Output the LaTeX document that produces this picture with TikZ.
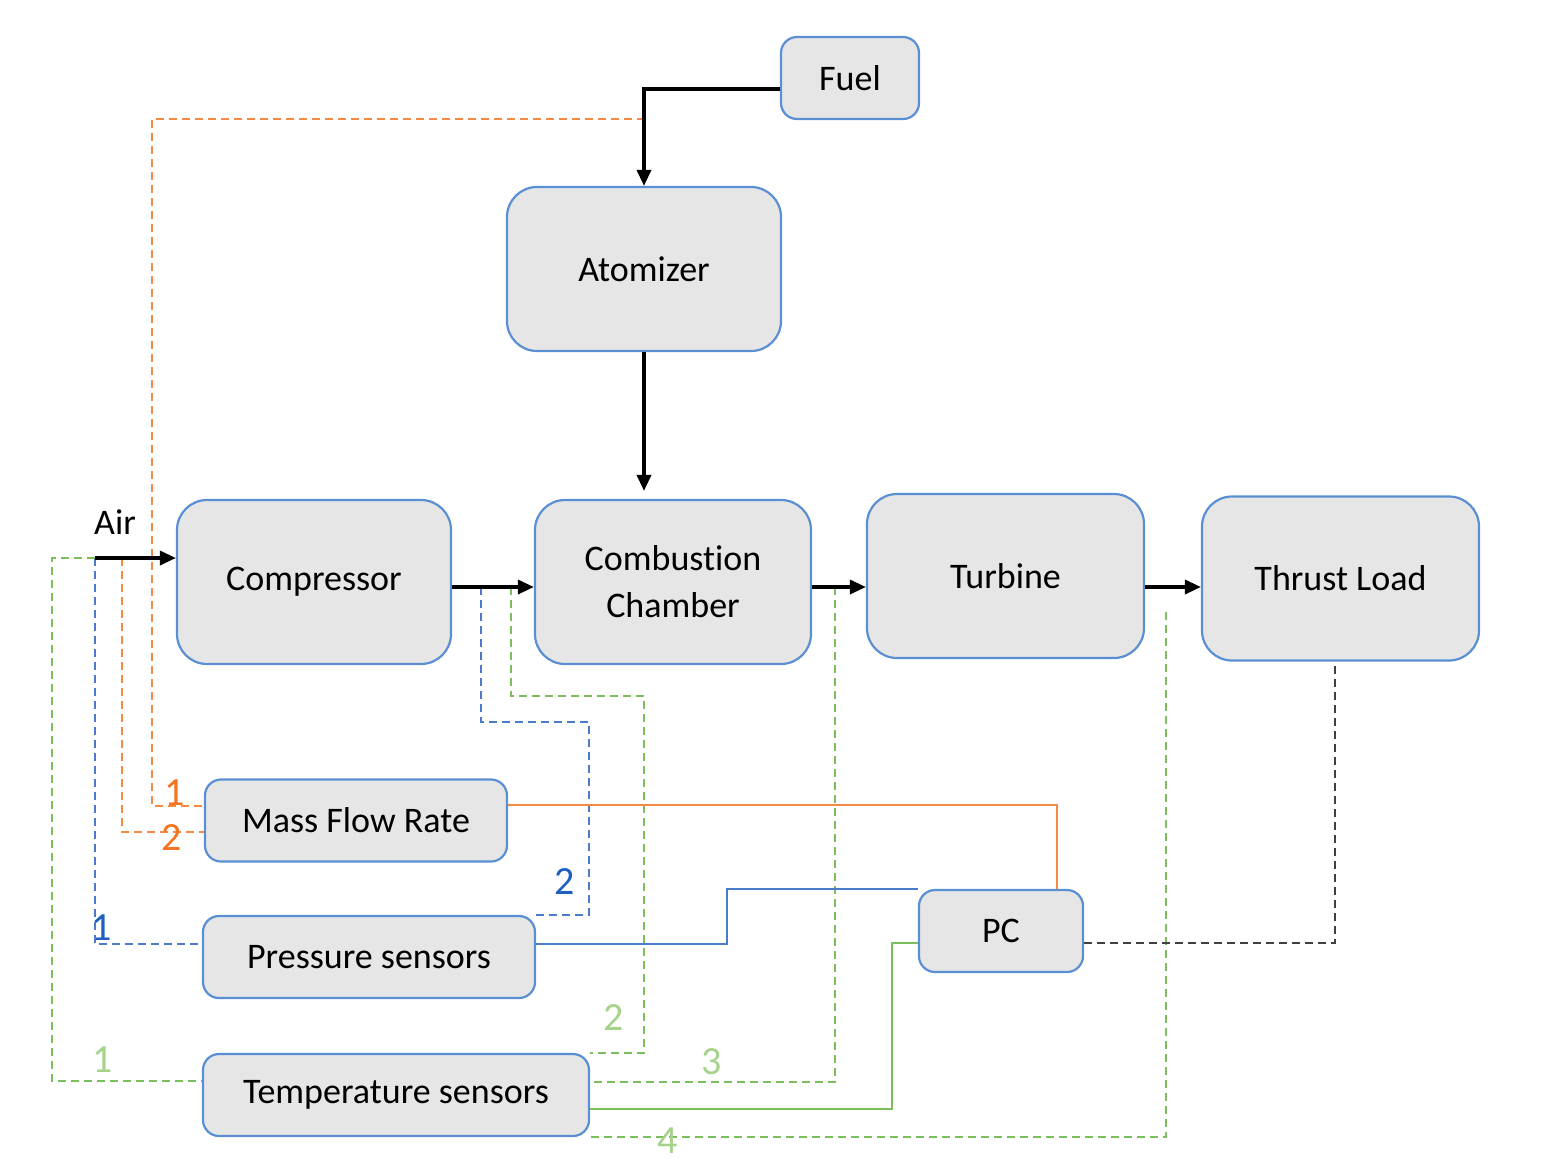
\documentclass[tikz,border=0pt]{standalone}
\usepackage{fontspec}
\setmainfont[Ligatures=NoCommon]{Carlito}
\usetikzlibrary{arrows.meta,calc}
\definecolor{boxfill}{HTML}{E7E6E6}
\definecolor{boxline}{HTML}{5B8FD3}
\definecolor{oran}{HTML}{F58A45}
\definecolor{oranlbl}{HTML}{F47420}
\definecolor{bldash}{HTML}{4A7CCB}
\definecolor{bllbl}{HTML}{1F5FBF}
\definecolor{grn}{HTML}{7BBE5C}
\definecolor{grnlbl}{HTML}{A6D38A}
\definecolor{dgray}{HTML}{404040}
\begin{document}
\begin{tikzpicture}[x=0.5pt,y=-0.5pt,
  box/.style={draw=boxline, fill=boxfill, line width=1.1pt, inner sep=0pt, align=center,
    font=\fontsize{18}{23.5}\selectfont},
  bigbox/.style={box, rounded corners=15pt, minimum width=137pt, minimum height=82pt},
  smallbox/.style={box, rounded corners=8pt, minimum height=41pt},
  flow/.style={line width=1.7pt, -{Triangle[length=8pt,width=7pt]}},
  odash/.style={draw=oran, line width=1pt, dash pattern=on 4pt off 2.5pt},
  osol/.style={draw=oran, line width=1pt},
  bdash/.style={draw=bldash, line width=1pt, dash pattern=on 4pt off 2.5pt},
  bsol/.style={draw=bldash, line width=1pt},
  gdash/.style={draw=grn, line width=1pt, dash pattern=on 4pt off 2.5pt},
  gsol/.style={draw=grn, line width=1pt},
  kdash/.style={draw=dgray, line width=1.2pt, dash pattern=on 4pt off 2.5pt},
  num/.style={font=\fontsize{20}{22}\selectfont, inner sep=0pt}
]
\useasboundingbox (0,0) rectangle (1552,1158);

% nodes
\node[smallbox, minimum width=69pt] (fuel) at (850,78) {Fuel};
\node[bigbox] (atom) at (644,269) {Atomizer};
\node[bigbox] (comp) at (314,582) {Compressor};
\node[bigbox, minimum width=138pt] (comb) at (673,582) {Combustion\\Chamber};
\node[bigbox, minimum width=138.5pt] (turb) at (1005.5,576) {Turbine};
\node[bigbox, minimum width=138.5pt] (thrust) at (1340.5,578.5) {Thrust Load};
\node[smallbox, minimum width=151pt] (mfr) at (356,820.5) {Mass Flow Rate};
\node[smallbox, minimum width=166pt] (press) at (369,957) {Pressure sensors};
\node[smallbox, minimum width=193pt] (temp) at (396,1095) {Temperature sensors};
\node[smallbox, minimum width=82pt] (pc) at (1001,931) {PC};
\node[font=\fontsize{18}{21}\selectfont, inner sep=0pt] (airlbl) at (115,522) {Air};

% free ends / taps
\coordinate (airin) at (95,558);
\coordinate (tapF) at (645,119);
\coordinate (tapO2) at (122,558);
\coordinate (tapB2) at (481,587);
\coordinate (tapG2) at (511,587);
\coordinate (tapG3) at (835,587);
\coordinate (tapG4) at (1166,612);

% orange dashed
\draw[odash] (tapF) -- (152,119) |- ($(mfr.west)+(0,-14.5)$);
\draw[odash] (tapO2) |- ($(mfr.west)+(0,11.5)$);
% blue dashed
\draw[bdash] (airin) |- ($(press.west)+(0,-13)$);
\draw[bdash] (tapB2) -- (481,722) -- (589,722) |- (press.north east);
% green dashed
\draw[gdash] (airin) -- (52,558) |- ($(temp.west)+(0,-14)$);
\draw[gdash] (tapG2) -- (511,696) -- (644,696) |- (temp.north east);
\draw[gdash] (tapG3) |- ($(temp.east)+(0,-13)$);
\draw[gdash] (tapG4) |- (temp.south east);
% solid signal lines
\draw[osol] ($(mfr.east)+(0,-15.5)$) -| ($(pc.north)+(56,0)$);
\draw[bsol] ($(press.east)+(0,-13)$) -- (727,944) |- (pc.north west);
\draw[gsol] ($(temp.east)+(0,14)$) -- (892,1109) |- ($(pc.west)+(0,12)$);
\draw[kdash] ($(pc.east)+(0,12)$) -| ($(thrust.south)+(-5.5,0)$);

% main flow
\draw[flow] ($(fuel.west)+(0,11)$) -| (atom.north);
\draw[flow, shorten >=4pt] (atom.south) -- (atom.south |- comb.north);
\draw[flow] (airin) -- (airin -| comp.west);
\draw[flow] ($(comp.east)+(0,5)$) -- ($(comb.west)+(0,5)$);
\draw[flow] ($(comb.east)+(0,5)$) -- (turb.west |- {$(comb.east)+(0,5)$});
\draw[flow] ($(turb.east)+(0,11)$) -- (thrust.west |- {$(turb.east)+(0,11)$});

% labels
\node[num, text=oranlbl] (o1) at (175,793) {1};
\node[num, text=oranlbl] (o2) at (172,838) {2};
\node[num, text=bllbl] (b1) at (102,928) {1};
\node[num, text=bllbl] (b2) at (565,882) {2};
\node[num, text=grnlbl] (g1) at (103,1060) {1};
\node[num, text=grnlbl] (g2) at (614,1018) {2};
\node[num, text=grnlbl] (g3) at (712,1062) {3};
\node[num, text=grnlbl] (g4) at (668,1141) {4};
\end{tikzpicture}
\end{document}
